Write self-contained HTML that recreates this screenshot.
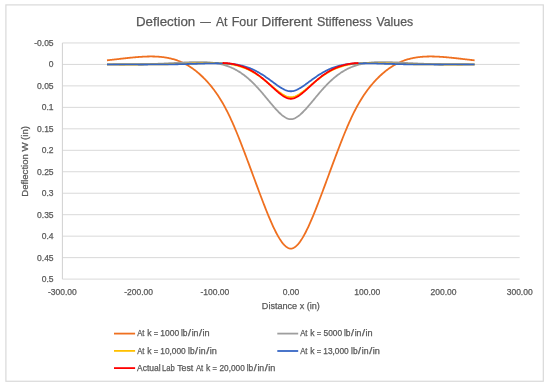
<!DOCTYPE html>
<html><head><meta charset="utf-8"><style>
html,body{margin:0;padding:0;background:#fff;}
svg{display:block;}
text{font-family:"Liberation Sans", Arial, sans-serif;fill:#595959;stroke:#595959;stroke-width:0.25px;}
</style></head><body>
<svg width="550" height="387" viewBox="0 0 550 387">
<rect x="0" y="0" width="550" height="387" fill="#fff"/>
<rect x="5.9" y="4.9" width="537.4" height="376.35" fill="#fff" stroke="#d9d9d9" stroke-width="1.2"/>
<g font-size="12.6"><text x="136.00" y="26" textLength="59.25" lengthAdjust="spacingAndGlyphs">Deflection</text><text x="200.30" y="26" textLength="10.60" lengthAdjust="spacingAndGlyphs">—</text><text x="216.00" y="26" textLength="11.50" lengthAdjust="spacingAndGlyphs">At</text><text x="231.70" y="26" textLength="25.60" lengthAdjust="spacingAndGlyphs">Four</text><text x="261.60" y="26" textLength="50.70" lengthAdjust="spacingAndGlyphs">Different</text><text x="317.00" y="26" textLength="54.75" lengthAdjust="spacingAndGlyphs">Stiffeness</text><text x="376.40" y="26" textLength="36.75" lengthAdjust="spacingAndGlyphs">Values</text></g>
<g stroke="#d9d9d9" stroke-width="1">
<line x1="62.40" y1="42.96" x2="519.70" y2="42.96"/>
<line x1="62.40" y1="64.43" x2="519.70" y2="64.43"/>
<line x1="62.40" y1="85.89" x2="519.70" y2="85.89"/>
<line x1="62.40" y1="107.36" x2="519.70" y2="107.36"/>
<line x1="62.40" y1="128.83" x2="519.70" y2="128.83"/>
<line x1="62.40" y1="150.30" x2="519.70" y2="150.30"/>
<line x1="62.40" y1="171.76" x2="519.70" y2="171.76"/>
<line x1="62.40" y1="193.23" x2="519.70" y2="193.23"/>
<line x1="62.40" y1="214.70" x2="519.70" y2="214.70"/>
<line x1="62.40" y1="236.17" x2="519.70" y2="236.17"/>
<line x1="62.40" y1="257.63" x2="519.70" y2="257.63"/>
<line x1="62.40" y1="279.10" x2="519.70" y2="279.10"/>
</g>
<line x1="62.40" y1="42.96" x2="62.40" y2="279.10" stroke="#d0d0d0" stroke-width="1"/>
<g font-size="8.5">
<text x="53.6" y="45.86" text-anchor="end">-0.05</text>
<text x="53.6" y="67.33" text-anchor="end">0</text>
<text x="53.6" y="88.79" text-anchor="end">0.05</text>
<text x="53.6" y="110.26" text-anchor="end">0.1</text>
<text x="53.6" y="131.73" text-anchor="end">0.15</text>
<text x="53.6" y="153.20" text-anchor="end">0.2</text>
<text x="53.6" y="174.66" text-anchor="end">0.25</text>
<text x="53.6" y="196.13" text-anchor="end">0.3</text>
<text x="53.6" y="217.60" text-anchor="end">0.35</text>
<text x="53.6" y="239.07" text-anchor="end">0.4</text>
<text x="53.6" y="260.53" text-anchor="end">0.45</text>
<text x="53.6" y="282.00" text-anchor="end">0.5</text>
<text x="62.40" y="294.7" text-anchor="middle">-300.00</text>
<text x="138.62" y="294.7" text-anchor="middle">-200.00</text>
<text x="214.83" y="294.7" text-anchor="middle">-100.00</text>
<text x="291.05" y="294.7" text-anchor="middle">0.00</text>
<text x="367.27" y="294.7" text-anchor="middle">100.00</text>
<text x="443.48" y="294.7" text-anchor="middle">200.00</text>
<text x="519.70" y="294.7" text-anchor="middle">300.00</text>
</g>
<text x="290.85" y="309.3" text-anchor="middle" font-size="9" textLength="58" lengthAdjust="spacingAndGlyphs">Distance x (in)</text>
<text transform="translate(28.3,161.4) rotate(-90)" x="0" y="0" text-anchor="middle" font-size="9" textLength="70.6" lengthAdjust="spacingAndGlyphs">Deflection W (in)</text>
<g fill="none" stroke-width="1.8" stroke-linejoin="round" stroke-linecap="square">
<path d="M107.88,60.24 L108.64,60.16 L109.40,60.07 L110.17,59.98 L110.93,59.90 L111.69,59.81 L112.45,59.72 L113.22,59.64 L113.98,59.55 L114.74,59.46 L115.50,59.37 L116.26,59.29 L117.03,59.20 L117.79,59.11 L118.55,59.02 L119.31,58.93 L120.07,58.85 L120.84,58.76 L121.60,58.67 L122.36,58.59 L123.12,58.50 L123.89,58.42 L124.65,58.33 L125.41,58.25 L126.17,58.16 L126.93,58.08 L127.70,58.00 L128.46,57.92 L129.22,57.84 L129.98,57.76 L130.75,57.68 L131.51,57.61 L132.27,57.53 L133.03,57.46 L133.79,57.39 L134.56,57.32 L135.32,57.25 L136.08,57.19 L136.84,57.13 L137.60,57.06 L138.37,57.00 L139.13,56.95 L139.89,56.89 L140.65,56.84 L141.42,56.79 L142.18,56.75 L142.94,56.70 L143.70,56.66 L144.46,56.63 L145.23,56.59 L145.99,56.57 L146.75,56.54 L147.51,56.52 L148.27,56.50 L149.04,56.48 L149.80,56.47 L150.56,56.47 L151.32,56.47 L152.09,56.47 L152.85,56.48 L153.61,56.49 L154.37,56.51 L155.13,56.54 L155.90,56.57 L156.66,56.60 L157.42,56.64 L158.18,56.69 L158.95,56.75 L159.71,56.81 L160.47,56.87 L161.23,56.95 L161.99,57.03 L162.76,57.12 L163.52,57.21 L164.28,57.32 L165.04,57.43 L165.81,57.55 L166.57,57.67 L167.33,57.81 L168.09,57.95 L168.85,58.11 L169.62,58.27 L170.38,58.44 L171.14,58.62 L171.90,58.81 L172.67,59.02 L173.43,59.23 L174.19,59.45 L174.96,59.68 L175.72,59.93 L176.48,60.18 L177.25,60.45 L178.01,60.73 L178.78,61.02 L179.54,61.32 L180.31,61.63 L181.07,61.96 L181.84,62.30 L182.60,62.65 L183.37,63.02 L184.14,63.40 L184.91,63.80 L185.68,64.20 L186.45,64.63 L187.22,65.06 L187.99,65.52 L188.77,65.98 L189.54,66.47 L190.32,66.96 L191.10,67.48 L191.88,68.01 L192.66,68.56 L193.44,69.12 L194.23,69.70 L195.01,70.30 L195.80,70.91 L196.59,71.54 L197.39,72.19 L198.18,72.86 L198.98,73.55 L199.78,74.25 L200.58,74.97 L201.38,75.72 L202.18,76.48 L202.99,77.26 L203.80,78.06 L204.60,78.88 L205.41,79.72 L206.22,80.58 L207.04,81.46 L207.85,82.36 L208.66,83.28 L209.47,84.22 L210.28,85.19 L211.09,86.17 L211.90,87.18 L212.71,88.21 L213.52,89.25 L214.32,90.33 L215.12,91.42 L215.92,92.53 L216.72,93.67 L217.51,94.83 L218.30,96.01 L219.08,97.21 L219.86,98.44 L220.64,99.69 L221.41,100.96 L222.18,102.25 L222.94,103.57 L223.70,104.91 L224.45,106.27 L225.20,107.65 L225.95,109.06 L226.69,110.48 L227.43,111.93 L228.16,113.41 L228.89,114.90 L229.62,116.42 L230.34,117.96 L231.06,119.52 L231.78,121.10 L232.50,122.70 L233.21,124.32 L233.93,125.97 L234.64,127.63 L235.35,129.32 L236.06,131.02 L236.78,132.75 L237.49,134.49 L238.20,136.26 L238.91,138.04 L239.63,139.84 L240.34,141.66 L241.06,143.49 L241.78,145.34 L242.50,147.21 L243.23,149.09 L243.95,150.99 L244.68,152.91 L245.41,154.83 L246.14,156.77 L246.87,158.73 L247.60,160.69 L248.34,162.67 L249.08,164.65 L249.82,166.65 L250.56,168.65 L251.31,170.66 L252.05,172.68 L252.80,174.70 L253.55,176.73 L254.30,178.76 L255.05,180.79 L255.80,182.83 L256.56,184.87 L257.31,186.90 L258.07,188.93 L258.82,190.96 L259.58,192.98 L260.34,195.00 L261.10,197.01 L261.86,199.01 L262.62,201.00 L263.37,202.98 L264.13,204.94 L264.90,206.89 L265.66,208.82 L266.42,210.74 L267.18,212.63 L267.94,214.50 L268.70,216.34 L269.46,218.16 L270.22,219.95 L270.99,221.71 L271.75,223.43 L272.51,225.13 L273.27,226.78 L274.03,228.40 L274.80,229.97 L275.56,231.50 L276.32,232.98 L277.08,234.41 L277.84,235.80 L278.61,237.12 L279.37,238.39 L280.13,239.61 L280.89,240.75 L281.65,241.84 L282.42,242.85 L283.18,243.80 L283.94,244.67 L284.70,245.46 L285.46,246.17 L286.23,246.80 L286.99,247.34 L287.75,247.79 L288.51,248.15 L289.28,248.40 L290.04,248.56 L290.80,248.62 L291.56,248.56 L292.32,248.40 L293.09,248.15 L293.85,247.79 L294.61,247.34 L295.37,246.80 L296.14,246.17 L296.90,245.46 L297.66,244.67 L298.42,243.80 L299.18,242.85 L299.95,241.84 L300.71,240.75 L301.47,239.61 L302.23,238.39 L302.99,237.12 L303.76,235.80 L304.52,234.41 L305.28,232.98 L306.04,231.50 L306.80,229.97 L307.57,228.40 L308.33,226.78 L309.09,225.13 L309.85,223.43 L310.61,221.71 L311.38,219.95 L312.14,218.16 L312.90,216.34 L313.66,214.50 L314.42,212.63 L315.18,210.74 L315.94,208.82 L316.70,206.89 L317.47,204.94 L318.23,202.98 L318.98,201.00 L319.74,199.01 L320.50,197.01 L321.26,195.00 L322.02,192.98 L322.78,190.96 L323.53,188.93 L324.29,186.90 L325.04,184.87 L325.80,182.83 L326.55,180.79 L327.30,178.76 L328.05,176.73 L328.80,174.70 L329.55,172.68 L330.29,170.66 L331.04,168.65 L331.78,166.65 L332.52,164.65 L333.26,162.67 L334.00,160.69 L334.73,158.73 L335.46,156.77 L336.19,154.83 L336.92,152.91 L337.65,150.99 L338.37,149.09 L339.10,147.21 L339.82,145.34 L340.54,143.49 L341.26,141.66 L341.97,139.84 L342.69,138.04 L343.40,136.26 L344.11,134.49 L344.82,132.75 L345.54,131.02 L346.25,129.32 L346.96,127.63 L347.67,125.97 L348.39,124.32 L349.10,122.70 L349.82,121.10 L350.54,119.52 L351.26,117.96 L351.98,116.42 L352.71,114.90 L353.44,113.41 L354.17,111.93 L354.91,110.48 L355.65,109.06 L356.40,107.65 L357.15,106.27 L357.90,104.91 L358.66,103.57 L359.42,102.25 L360.19,100.96 L360.96,99.69 L361.74,98.44 L362.52,97.21 L363.30,96.01 L364.09,94.83 L364.88,93.67 L365.68,92.53 L366.48,91.42 L367.28,90.33 L368.08,89.25 L368.89,88.21 L369.70,87.18 L370.51,86.17 L371.32,85.19 L372.13,84.22 L372.94,83.28 L373.75,82.36 L374.56,81.46 L375.38,80.58 L376.19,79.72 L377.00,78.88 L377.80,78.06 L378.61,77.26 L379.42,76.48 L380.22,75.72 L381.02,74.97 L381.82,74.25 L382.62,73.55 L383.42,72.86 L384.21,72.19 L385.01,71.54 L385.80,70.91 L386.59,70.30 L387.37,69.70 L388.16,69.12 L388.94,68.56 L389.72,68.01 L390.50,67.48 L391.28,66.96 L392.06,66.47 L392.83,65.98 L393.61,65.52 L394.38,65.06 L395.15,64.63 L395.92,64.20 L396.69,63.80 L397.46,63.40 L398.23,63.02 L399.00,62.65 L399.76,62.30 L400.53,61.96 L401.29,61.63 L402.06,61.32 L402.82,61.02 L403.59,60.73 L404.35,60.45 L405.12,60.18 L405.88,59.93 L406.64,59.68 L407.41,59.45 L408.17,59.23 L408.93,59.02 L409.70,58.81 L410.46,58.62 L411.22,58.44 L411.98,58.27 L412.75,58.11 L413.51,57.95 L414.27,57.81 L415.03,57.67 L415.79,57.55 L416.56,57.43 L417.32,57.32 L418.08,57.21 L418.84,57.12 L419.61,57.03 L420.37,56.95 L421.13,56.87 L421.89,56.81 L422.65,56.75 L423.42,56.69 L424.18,56.64 L424.94,56.60 L425.70,56.57 L426.47,56.54 L427.23,56.51 L427.99,56.49 L428.75,56.48 L429.51,56.47 L430.28,56.47 L431.04,56.47 L431.80,56.47 L432.56,56.48 L433.33,56.50 L434.09,56.52 L434.85,56.54 L435.61,56.57 L436.37,56.59 L437.14,56.63 L437.90,56.66 L438.66,56.70 L439.42,56.75 L440.18,56.79 L440.95,56.84 L441.71,56.89 L442.47,56.95 L443.23,57.00 L444.00,57.06 L444.76,57.13 L445.52,57.19 L446.28,57.25 L447.04,57.32 L447.81,57.39 L448.57,57.46 L449.33,57.53 L450.09,57.61 L450.85,57.68 L451.62,57.76 L452.38,57.84 L453.14,57.92 L453.90,58.00 L454.67,58.08 L455.43,58.16 L456.19,58.25 L456.95,58.33 L457.71,58.42 L458.48,58.50 L459.24,58.59 L460.00,58.67 L460.76,58.76 L461.53,58.85 L462.29,58.93 L463.05,59.02 L463.81,59.11 L464.57,59.20 L465.34,59.29 L466.10,59.37 L466.86,59.46 L467.62,59.55 L468.38,59.64 L469.15,59.72 L469.91,59.81 L470.67,59.90 L471.43,59.98 L472.20,60.07 L472.96,60.16 L473.72,60.24" stroke="#EF7020"/>
<path d="M107.88,64.53 L108.64,64.53 L109.40,64.53 L110.17,64.53 L110.93,64.53 L111.69,64.53 L112.45,64.53 L113.22,64.52 L113.98,64.52 L114.74,64.52 L115.50,64.52 L116.26,64.52 L117.03,64.52 L117.79,64.51 L118.55,64.51 L119.31,64.51 L120.07,64.50 L120.84,64.50 L121.60,64.50 L122.36,64.49 L123.12,64.49 L123.89,64.48 L124.65,64.48 L125.41,64.47 L126.17,64.47 L126.93,64.46 L127.70,64.45 L128.46,64.45 L129.22,64.44 L129.98,64.43 L130.74,64.42 L131.51,64.41 L132.27,64.40 L133.03,64.39 L133.79,64.38 L134.56,64.37 L135.32,64.36 L136.08,64.35 L136.84,64.34 L137.60,64.33 L138.37,64.31 L139.13,64.30 L139.89,64.28 L140.65,64.27 L141.42,64.25 L142.18,64.24 L142.94,64.22 L143.70,64.20 L144.46,64.19 L145.23,64.17 L145.99,64.15 L146.75,64.13 L147.51,64.11 L148.27,64.09 L149.04,64.07 L149.80,64.04 L150.56,64.02 L151.32,64.00 L152.09,63.97 L152.85,63.95 L153.61,63.92 L154.37,63.89 L155.13,63.87 L155.90,63.84 L156.66,63.81 L157.42,63.78 L158.18,63.75 L158.95,63.72 L159.71,63.69 L160.47,63.66 L161.23,63.63 L161.99,63.60 L162.76,63.56 L163.52,63.53 L164.28,63.49 L165.04,63.46 L165.80,63.42 L166.57,63.39 L167.33,63.35 L168.09,63.31 L168.85,63.27 L169.62,63.24 L170.38,63.20 L171.14,63.16 L171.90,63.12 L172.66,63.08 L173.43,63.04 L174.19,63.00 L174.95,62.96 L175.71,62.92 L176.47,62.88 L177.24,62.84 L178.00,62.80 L178.76,62.76 L179.52,62.73 L180.29,62.69 L181.05,62.65 L181.81,62.61 L182.57,62.57 L183.33,62.53 L184.10,62.50 L184.86,62.46 L185.62,62.43 L186.38,62.39 L187.15,62.36 L187.91,62.33 L188.67,62.30 L189.43,62.27 L190.19,62.24 L190.96,62.21 L191.72,62.19 L192.48,62.16 L193.24,62.14 L194.00,62.12 L194.77,62.11 L195.53,62.09 L196.29,62.08 L197.05,62.07 L197.82,62.07 L198.58,62.06 L199.34,62.06 L200.10,62.06 L200.86,62.07 L201.63,62.08 L202.39,62.09 L203.15,62.11 L203.91,62.13 L204.68,62.16 L205.44,62.19 L206.20,62.23 L206.96,62.27 L207.72,62.31 L208.49,62.37 L209.25,62.42 L210.01,62.49 L210.77,62.55 L211.53,62.63 L212.30,62.71 L213.06,62.80 L213.82,62.90 L214.58,63.00 L215.35,63.11 L216.11,63.23 L216.87,63.35 L217.63,63.49 L218.39,63.63 L219.16,63.78 L219.92,63.94 L220.68,64.11 L221.44,64.29 L222.20,64.48 L222.97,64.68 L223.73,64.89 L224.49,65.11 L225.25,65.34 L226.02,65.58 L226.78,65.84 L227.54,66.10 L228.30,66.38 L229.06,66.67 L229.83,66.97 L230.59,67.28 L231.35,67.61 L232.11,67.95 L232.88,68.30 L233.64,68.67 L234.40,69.05 L235.16,69.45 L235.92,69.86 L236.69,70.28 L237.45,70.72 L238.21,71.17 L238.97,71.63 L239.73,72.12 L240.50,72.61 L241.26,73.13 L242.02,73.65 L242.78,74.20 L243.55,74.75 L244.31,75.33 L245.07,75.92 L245.83,76.52 L246.59,77.14 L247.36,77.78 L248.12,78.43 L248.88,79.09 L249.64,79.78 L250.41,80.47 L251.17,81.18 L251.93,81.91 L252.69,82.65 L253.45,83.40 L254.22,84.17 L254.98,84.96 L255.74,85.75 L256.50,86.56 L257.26,87.38 L258.03,88.21 L258.79,89.06 L259.55,89.91 L260.31,90.77 L261.08,91.65 L261.84,92.53 L262.60,93.42 L263.36,94.32 L264.12,95.23 L264.89,96.14 L265.65,97.05 L266.41,97.97 L267.17,98.89 L267.94,99.81 L268.70,100.73 L269.46,101.65 L270.22,102.57 L270.98,103.48 L271.75,104.39 L272.51,105.29 L273.27,106.18 L274.03,107.06 L274.79,107.92 L275.56,108.78 L276.32,109.61 L277.08,110.43 L277.84,111.23 L278.61,112.01 L279.37,112.76 L280.13,113.48 L280.89,114.17 L281.65,114.83 L282.42,115.46 L283.18,116.05 L283.94,116.59 L284.70,117.10 L285.46,117.55 L286.23,117.96 L286.99,118.32 L287.75,118.61 L288.51,118.85 L289.28,119.02 L290.04,119.13 L290.80,119.17 L291.56,119.13 L292.32,119.02 L293.09,118.85 L293.85,118.61 L294.61,118.32 L295.37,117.96 L296.14,117.55 L296.90,117.10 L297.66,116.59 L298.42,116.05 L299.18,115.46 L299.95,114.83 L300.71,114.17 L301.47,113.48 L302.23,112.76 L302.99,112.01 L303.76,111.23 L304.52,110.43 L305.28,109.61 L306.04,108.78 L306.81,107.92 L307.57,107.06 L308.33,106.18 L309.09,105.29 L309.85,104.39 L310.62,103.48 L311.38,102.57 L312.14,101.65 L312.90,100.73 L313.67,99.81 L314.43,98.89 L315.19,97.97 L315.95,97.05 L316.71,96.14 L317.48,95.23 L318.24,94.32 L319.00,93.42 L319.76,92.53 L320.52,91.65 L321.29,90.77 L322.05,89.91 L322.81,89.06 L323.57,88.21 L324.34,87.38 L325.10,86.56 L325.86,85.75 L326.62,84.96 L327.38,84.17 L328.15,83.40 L328.91,82.65 L329.67,81.91 L330.43,81.18 L331.19,80.47 L331.96,79.78 L332.72,79.09 L333.48,78.43 L334.24,77.78 L335.01,77.14 L335.77,76.52 L336.53,75.92 L337.29,75.33 L338.05,74.75 L338.82,74.20 L339.58,73.65 L340.34,73.13 L341.10,72.61 L341.87,72.12 L342.63,71.63 L343.39,71.17 L344.15,70.72 L344.91,70.28 L345.68,69.86 L346.44,69.45 L347.20,69.05 L347.96,68.67 L348.72,68.30 L349.49,67.95 L350.25,67.61 L351.01,67.28 L351.77,66.97 L352.54,66.67 L353.30,66.38 L354.06,66.10 L354.82,65.84 L355.58,65.58 L356.35,65.34 L357.11,65.11 L357.87,64.89 L358.63,64.68 L359.40,64.48 L360.16,64.29 L360.92,64.11 L361.68,63.94 L362.44,63.78 L363.21,63.63 L363.97,63.49 L364.73,63.35 L365.49,63.23 L366.25,63.11 L367.02,63.00 L367.78,62.90 L368.54,62.80 L369.30,62.71 L370.07,62.63 L370.83,62.55 L371.59,62.49 L372.35,62.42 L373.11,62.37 L373.88,62.31 L374.64,62.27 L375.40,62.23 L376.16,62.19 L376.92,62.16 L377.69,62.13 L378.45,62.11 L379.21,62.09 L379.97,62.08 L380.74,62.07 L381.50,62.06 L382.26,62.06 L383.02,62.06 L383.78,62.07 L384.55,62.07 L385.31,62.08 L386.07,62.09 L386.83,62.11 L387.60,62.12 L388.36,62.14 L389.12,62.16 L389.88,62.19 L390.64,62.21 L391.41,62.24 L392.17,62.27 L392.93,62.30 L393.69,62.33 L394.45,62.36 L395.22,62.39 L395.98,62.43 L396.74,62.46 L397.50,62.50 L398.27,62.53 L399.03,62.57 L399.79,62.61 L400.55,62.65 L401.31,62.69 L402.08,62.73 L402.84,62.76 L403.60,62.80 L404.36,62.84 L405.12,62.88 L405.89,62.92 L406.65,62.96 L407.41,63.00 L408.17,63.04 L408.94,63.08 L409.70,63.12 L410.46,63.16 L411.22,63.20 L411.98,63.24 L412.75,63.27 L413.51,63.31 L414.27,63.35 L415.03,63.39 L415.80,63.42 L416.56,63.46 L417.32,63.49 L418.08,63.53 L418.84,63.56 L419.61,63.60 L420.37,63.63 L421.13,63.66 L421.89,63.69 L422.65,63.72 L423.42,63.75 L424.18,63.78 L424.94,63.81 L425.70,63.84 L426.47,63.87 L427.23,63.89 L427.99,63.92 L428.75,63.95 L429.51,63.97 L430.28,64.00 L431.04,64.02 L431.80,64.04 L432.56,64.07 L433.33,64.09 L434.09,64.11 L434.85,64.13 L435.61,64.15 L436.37,64.17 L437.14,64.19 L437.90,64.20 L438.66,64.22 L439.42,64.24 L440.18,64.25 L440.95,64.27 L441.71,64.28 L442.47,64.30 L443.23,64.31 L444.00,64.33 L444.76,64.34 L445.52,64.35 L446.28,64.36 L447.04,64.37 L447.81,64.38 L448.57,64.39 L449.33,64.40 L450.09,64.41 L450.86,64.42 L451.62,64.43 L452.38,64.44 L453.14,64.45 L453.90,64.45 L454.67,64.46 L455.43,64.47 L456.19,64.47 L456.95,64.48 L457.71,64.48 L458.48,64.49 L459.24,64.49 L460.00,64.50 L460.76,64.50 L461.53,64.50 L462.29,64.51 L463.05,64.51 L463.81,64.51 L464.57,64.52 L465.34,64.52 L466.10,64.52 L466.86,64.52 L467.62,64.52 L468.38,64.52 L469.15,64.53 L469.91,64.53 L470.67,64.53 L471.43,64.53 L472.20,64.53 L472.96,64.53 L473.72,64.53" stroke="#9E9E9E"/>
<path d="M107.88,64.46 L108.64,64.46 L109.40,64.46 L110.17,64.46 L110.93,64.46 L111.69,64.46 L112.45,64.46 L113.22,64.47 L113.98,64.47 L114.74,64.47 L115.50,64.47 L116.26,64.47 L117.03,64.47 L117.79,64.47 L118.55,64.47 L119.31,64.48 L120.07,64.48 L120.84,64.48 L121.60,64.48 L122.36,64.48 L123.12,64.48 L123.89,64.48 L124.65,64.48 L125.41,64.48 L126.17,64.48 L126.93,64.49 L127.70,64.49 L128.46,64.49 L129.22,64.49 L129.98,64.49 L130.74,64.49 L131.51,64.49 L132.27,64.49 L133.03,64.49 L133.79,64.49 L134.56,64.49 L135.32,64.49 L136.08,64.49 L136.84,64.49 L137.60,64.49 L138.37,64.49 L139.13,64.48 L139.89,64.48 L140.65,64.48 L141.42,64.48 L142.18,64.48 L142.94,64.48 L143.70,64.48 L144.46,64.47 L145.23,64.47 L145.99,64.47 L146.75,64.46 L147.51,64.46 L148.27,64.46 L149.04,64.45 L149.80,64.45 L150.56,64.44 L151.32,64.44 L152.09,64.43 L152.85,64.43 L153.61,64.42 L154.37,64.42 L155.13,64.41 L155.90,64.40 L156.66,64.40 L157.42,64.39 L158.18,64.38 L158.95,64.37 L159.71,64.36 L160.47,64.35 L161.23,64.34 L161.99,64.33 L162.76,64.32 L163.52,64.31 L164.28,64.30 L165.04,64.29 L165.80,64.27 L166.57,64.26 L167.33,64.25 L168.09,64.23 L168.85,64.22 L169.62,64.20 L170.38,64.19 L171.14,64.17 L171.90,64.15 L172.66,64.14 L173.43,64.12 L174.19,64.10 L174.95,64.08 L175.71,64.06 L176.47,64.04 L177.24,64.02 L178.00,64.00 L178.76,63.98 L179.52,63.95 L180.29,63.93 L181.05,63.91 L181.81,63.88 L182.57,63.86 L183.33,63.83 L184.10,63.81 L184.86,63.78 L185.62,63.76 L186.38,63.73 L187.15,63.70 L187.91,63.68 L188.67,63.65 L189.43,63.62 L190.19,63.60 L190.96,63.57 L191.72,63.54 L192.48,63.51 L193.24,63.48 L194.00,63.46 L194.77,63.43 L195.53,63.40 L196.29,63.37 L197.05,63.35 L197.82,63.32 L198.58,63.30 L199.34,63.27 L200.10,63.25 L200.86,63.22 L201.63,63.20 L202.39,63.17 L203.15,63.15 L203.91,63.13 L204.68,63.11 L205.44,63.10 L206.20,63.08 L206.96,63.06 L207.72,63.05 L208.49,63.04 L209.25,63.03 L210.01,63.02 L210.77,63.02 L211.53,63.01 L212.30,63.01 L213.06,63.01 L213.82,63.02 L214.58,63.03 L215.35,63.04 L216.11,63.05 L216.87,63.07 L217.63,63.09 L218.39,63.12 L219.16,63.15 L219.92,63.18 L220.68,63.22 L221.44,63.26 L222.20,63.31 L222.97,63.36 L223.73,63.42 L224.49,63.49 L225.25,63.56 L226.02,63.63 L226.78,63.71 L227.54,63.80 L228.30,63.90 L229.06,64.00 L229.83,64.11 L230.59,64.23 L231.35,64.35 L232.11,64.49 L232.88,64.63 L233.64,64.78 L234.40,64.94 L235.16,65.10 L235.92,65.28 L236.69,65.47 L237.45,65.66 L238.21,65.87 L238.97,66.08 L239.73,66.31 L240.50,66.55 L241.26,66.80 L242.02,67.06 L242.78,67.33 L243.55,67.61 L244.31,67.90 L245.07,68.20 L245.83,68.52 L246.59,68.85 L247.36,69.19 L248.12,69.54 L248.88,69.91 L249.64,70.29 L250.41,70.68 L251.17,71.08 L251.93,71.50 L252.69,71.93 L253.45,72.37 L254.22,72.82 L254.98,73.29 L255.74,73.77 L256.50,74.26 L257.26,74.76 L258.03,75.28 L258.79,75.80 L259.55,76.34 L260.31,76.89 L261.08,77.45 L261.84,78.02 L262.60,78.59 L263.36,79.18 L264.12,79.78 L264.89,80.38 L265.65,81.00 L266.41,81.62 L267.17,82.24 L267.94,82.87 L268.70,83.51 L269.46,84.15 L270.22,84.79 L270.98,85.43 L271.75,86.07 L272.51,86.71 L273.27,87.35 L274.03,87.99 L274.79,88.62 L275.56,89.24 L276.32,89.86 L277.08,90.47 L277.84,91.06 L278.61,91.64 L279.37,92.20 L280.13,92.75 L280.89,93.28 L281.65,93.79 L282.42,94.27 L283.18,94.72 L283.94,95.15 L284.70,95.54 L285.46,95.90 L286.23,96.22 L286.99,96.50 L287.75,96.74 L288.51,96.93 L289.28,97.07 L290.04,97.16 L290.80,97.19 L291.56,97.16 L292.32,97.07 L293.09,96.93 L293.85,96.74 L294.61,96.50 L295.37,96.22 L296.14,95.90 L296.90,95.54 L297.66,95.15 L298.42,94.72 L299.18,94.27 L299.95,93.79 L300.71,93.28 L301.47,92.75 L302.23,92.20 L302.99,91.64 L303.76,91.06 L304.52,90.47 L305.28,89.86 L306.04,89.24 L306.81,88.62 L307.57,87.99 L308.33,87.35 L309.09,86.71 L309.85,86.07 L310.62,85.43 L311.38,84.79 L312.14,84.15 L312.90,83.51 L313.67,82.87 L314.43,82.24 L315.19,81.62 L315.95,81.00 L316.71,80.38 L317.48,79.78 L318.24,79.18 L319.00,78.59 L319.76,78.02 L320.52,77.45 L321.29,76.89 L322.05,76.34 L322.81,75.80 L323.57,75.28 L324.34,74.76 L325.10,74.26 L325.86,73.77 L326.62,73.29 L327.38,72.82 L328.15,72.37 L328.91,71.93 L329.67,71.50 L330.43,71.08 L331.19,70.68 L331.96,70.29 L332.72,69.91 L333.48,69.54 L334.24,69.19 L335.01,68.85 L335.77,68.52 L336.53,68.20 L337.29,67.90 L338.05,67.61 L338.82,67.33 L339.58,67.06 L340.34,66.80 L341.10,66.55 L341.87,66.31 L342.63,66.08 L343.39,65.87 L344.15,65.66 L344.91,65.47 L345.68,65.28 L346.44,65.10 L347.20,64.94 L347.96,64.78 L348.72,64.63 L349.49,64.49 L350.25,64.35 L351.01,64.23 L351.77,64.11 L352.54,64.00 L353.30,63.90 L354.06,63.80 L354.82,63.71 L355.58,63.63 L356.35,63.56 L357.11,63.49 L357.87,63.42 L358.63,63.36 L359.40,63.31 L360.16,63.26 L360.92,63.22 L361.68,63.18 L362.44,63.15 L363.21,63.12 L363.97,63.09 L364.73,63.07 L365.49,63.05 L366.25,63.04 L367.02,63.03 L367.78,63.02 L368.54,63.01 L369.30,63.01 L370.07,63.01 L370.83,63.02 L371.59,63.02 L372.35,63.03 L373.11,63.04 L373.88,63.05 L374.64,63.06 L375.40,63.08 L376.16,63.10 L376.92,63.11 L377.69,63.13 L378.45,63.15 L379.21,63.17 L379.97,63.20 L380.74,63.22 L381.50,63.25 L382.26,63.27 L383.02,63.30 L383.78,63.32 L384.55,63.35 L385.31,63.37 L386.07,63.40 L386.83,63.43 L387.60,63.46 L388.36,63.48 L389.12,63.51 L389.88,63.54 L390.64,63.57 L391.41,63.60 L392.17,63.62 L392.93,63.65 L393.69,63.68 L394.45,63.70 L395.22,63.73 L395.98,63.76 L396.74,63.78 L397.50,63.81 L398.27,63.83 L399.03,63.86 L399.79,63.88 L400.55,63.91 L401.31,63.93 L402.08,63.95 L402.84,63.98 L403.60,64.00 L404.36,64.02 L405.12,64.04 L405.89,64.06 L406.65,64.08 L407.41,64.10 L408.17,64.12 L408.94,64.14 L409.70,64.15 L410.46,64.17 L411.22,64.19 L411.98,64.20 L412.75,64.22 L413.51,64.23 L414.27,64.25 L415.03,64.26 L415.80,64.27 L416.56,64.29 L417.32,64.30 L418.08,64.31 L418.84,64.32 L419.61,64.33 L420.37,64.34 L421.13,64.35 L421.89,64.36 L422.65,64.37 L423.42,64.38 L424.18,64.39 L424.94,64.40 L425.70,64.40 L426.47,64.41 L427.23,64.42 L427.99,64.42 L428.75,64.43 L429.51,64.43 L430.28,64.44 L431.04,64.44 L431.80,64.45 L432.56,64.45 L433.33,64.46 L434.09,64.46 L434.85,64.46 L435.61,64.47 L436.37,64.47 L437.14,64.47 L437.90,64.48 L438.66,64.48 L439.42,64.48 L440.18,64.48 L440.95,64.48 L441.71,64.48 L442.47,64.48 L443.23,64.49 L444.00,64.49 L444.76,64.49 L445.52,64.49 L446.28,64.49 L447.04,64.49 L447.81,64.49 L448.57,64.49 L449.33,64.49 L450.09,64.49 L450.86,64.49 L451.62,64.49 L452.38,64.49 L453.14,64.49 L453.90,64.49 L454.67,64.49 L455.43,64.48 L456.19,64.48 L456.95,64.48 L457.71,64.48 L458.48,64.48 L459.24,64.48 L460.00,64.48 L460.76,64.48 L461.53,64.48 L462.29,64.48 L463.05,64.47 L463.81,64.47 L464.57,64.47 L465.34,64.47 L466.10,64.47 L466.86,64.47 L467.62,64.47 L468.38,64.47 L469.15,64.46 L469.91,64.46 L470.67,64.46 L471.43,64.46 L472.20,64.46 L472.96,64.46 L473.72,64.46" stroke="#FFC000"/>
<path d="M107.88,64.44 L108.64,64.44 L109.40,64.44 L110.17,64.44 L110.93,64.44 L111.69,64.44 L112.45,64.44 L113.22,64.44 L113.98,64.45 L114.74,64.45 L115.50,64.45 L116.26,64.45 L117.03,64.45 L117.79,64.45 L118.55,64.45 L119.31,64.45 L120.07,64.45 L120.84,64.45 L121.60,64.45 L122.36,64.46 L123.12,64.46 L123.89,64.46 L124.65,64.46 L125.41,64.46 L126.17,64.46 L126.93,64.46 L127.70,64.46 L128.46,64.46 L129.22,64.47 L129.98,64.47 L130.74,64.47 L131.51,64.47 L132.27,64.47 L133.03,64.47 L133.79,64.47 L134.56,64.47 L135.32,64.47 L136.08,64.47 L136.84,64.47 L137.60,64.47 L138.37,64.48 L139.13,64.48 L139.89,64.48 L140.65,64.48 L141.42,64.48 L142.18,64.48 L142.94,64.48 L143.70,64.48 L144.46,64.48 L145.23,64.48 L145.99,64.48 L146.75,64.48 L147.51,64.48 L148.27,64.47 L149.04,64.47 L149.80,64.47 L150.56,64.47 L151.32,64.47 L152.09,64.47 L152.85,64.47 L153.61,64.46 L154.37,64.46 L155.13,64.46 L155.90,64.46 L156.66,64.45 L157.42,64.45 L158.18,64.45 L158.95,64.44 L159.71,64.44 L160.47,64.44 L161.23,64.43 L161.99,64.43 L162.76,64.42 L163.52,64.42 L164.28,64.41 L165.04,64.40 L165.80,64.40 L166.57,64.39 L167.33,64.38 L168.09,64.37 L168.85,64.37 L169.62,64.36 L170.38,64.35 L171.14,64.34 L171.90,64.33 L172.66,64.32 L173.43,64.31 L174.19,64.29 L174.95,64.28 L175.71,64.27 L176.47,64.26 L177.24,64.24 L178.00,64.23 L178.76,64.22 L179.52,64.20 L180.29,64.19 L181.05,64.17 L181.81,64.15 L182.57,64.14 L183.33,64.12 L184.10,64.10 L184.86,64.08 L185.62,64.06 L186.38,64.04 L187.15,64.02 L187.91,64.00 L188.67,63.98 L189.43,63.96 L190.19,63.94 L190.96,63.92 L191.72,63.90 L192.48,63.87 L193.24,63.85 L194.00,63.83 L194.77,63.80 L195.53,63.78 L196.29,63.76 L197.05,63.73 L197.82,63.71 L198.58,63.68 L199.34,63.66 L200.10,63.63 L200.86,63.61 L201.63,63.59 L202.39,63.56 L203.15,63.54 L203.91,63.52 L204.68,63.49 L205.44,63.47 L206.20,63.45 L206.96,63.43 L207.72,63.41 L208.49,63.39 L209.25,63.37 L210.01,63.35 L210.77,63.34 L211.53,63.32 L212.30,63.31 L213.06,63.30 L213.82,63.29 L214.58,63.28 L215.35,63.27 L216.11,63.27 L216.87,63.27 L217.63,63.27 L218.39,63.27 L219.16,63.28 L219.92,63.29 L220.68,63.30 L221.44,63.31 L222.20,63.33 L222.97,63.35 L223.73,63.38 L224.49,63.41 L225.25,63.44 L226.02,63.48 L226.78,63.52 L227.54,63.57 L228.30,63.63 L229.06,63.68 L229.83,63.75 L230.59,63.82 L231.35,63.89 L232.11,63.98 L232.88,64.07 L233.64,64.16 L234.40,64.26 L235.16,64.37 L235.92,64.49 L236.69,64.61 L237.45,64.75 L238.21,64.89 L238.97,65.04 L239.73,65.20 L240.50,65.36 L241.26,65.54 L242.02,65.72 L242.78,65.92 L243.55,66.12 L244.31,66.34 L245.07,66.57 L245.83,66.80 L246.59,67.05 L247.36,67.31 L248.12,67.57 L248.88,67.85 L249.64,68.14 L250.41,68.45 L251.17,68.76 L251.93,69.09 L252.69,69.42 L253.45,69.77 L254.22,70.13 L254.98,70.51 L255.74,70.89 L256.50,71.29 L257.26,71.69 L258.03,72.11 L258.79,72.54 L259.55,72.98 L260.31,73.44 L261.08,73.90 L261.84,74.37 L262.60,74.86 L263.36,75.35 L264.12,75.85 L264.89,76.37 L265.65,76.89 L266.41,77.41 L267.17,77.95 L267.94,78.49 L268.70,79.04 L269.46,79.59 L270.22,80.15 L270.98,80.70 L271.75,81.27 L272.51,81.83 L273.27,82.39 L274.03,82.95 L274.79,83.51 L275.56,84.06 L276.32,84.61 L277.08,85.15 L277.84,85.68 L278.61,86.20 L279.37,86.71 L280.13,87.20 L280.89,87.68 L281.65,88.14 L282.42,88.58 L283.18,88.99 L283.94,89.38 L284.70,89.74 L285.46,90.07 L286.23,90.37 L286.99,90.63 L287.75,90.85 L288.51,91.02 L289.28,91.15 L290.04,91.23 L290.80,91.26 L291.56,91.23 L292.32,91.15 L293.09,91.02 L293.85,90.85 L294.61,90.63 L295.37,90.37 L296.14,90.07 L296.90,89.74 L297.66,89.38 L298.42,88.99 L299.18,88.58 L299.95,88.14 L300.71,87.68 L301.47,87.20 L302.23,86.71 L302.99,86.20 L303.76,85.68 L304.52,85.15 L305.28,84.61 L306.04,84.06 L306.81,83.51 L307.57,82.95 L308.33,82.39 L309.09,81.83 L309.85,81.27 L310.62,80.70 L311.38,80.15 L312.14,79.59 L312.90,79.04 L313.67,78.49 L314.43,77.95 L315.19,77.41 L315.95,76.89 L316.71,76.37 L317.48,75.85 L318.24,75.35 L319.00,74.86 L319.76,74.37 L320.52,73.90 L321.29,73.44 L322.05,72.98 L322.81,72.54 L323.57,72.11 L324.34,71.69 L325.10,71.29 L325.86,70.89 L326.62,70.51 L327.38,70.13 L328.15,69.77 L328.91,69.42 L329.67,69.09 L330.43,68.76 L331.19,68.45 L331.96,68.14 L332.72,67.85 L333.48,67.57 L334.24,67.31 L335.01,67.05 L335.77,66.80 L336.53,66.57 L337.29,66.34 L338.05,66.12 L338.82,65.92 L339.58,65.72 L340.34,65.54 L341.10,65.36 L341.87,65.20 L342.63,65.04 L343.39,64.89 L344.15,64.75 L344.91,64.61 L345.68,64.49 L346.44,64.37 L347.20,64.26 L347.96,64.16 L348.72,64.07 L349.49,63.98 L350.25,63.89 L351.01,63.82 L351.77,63.75 L352.54,63.68 L353.30,63.63 L354.06,63.57 L354.82,63.52 L355.58,63.48 L356.35,63.44 L357.11,63.41 L357.87,63.38 L358.63,63.35 L359.40,63.33 L360.16,63.31 L360.92,63.30 L361.68,63.29 L362.44,63.28 L363.21,63.27 L363.97,63.27 L364.73,63.27 L365.49,63.27 L366.25,63.27 L367.02,63.28 L367.78,63.29 L368.54,63.30 L369.30,63.31 L370.07,63.32 L370.83,63.34 L371.59,63.35 L372.35,63.37 L373.11,63.39 L373.88,63.41 L374.64,63.43 L375.40,63.45 L376.16,63.47 L376.92,63.49 L377.69,63.52 L378.45,63.54 L379.21,63.56 L379.97,63.59 L380.74,63.61 L381.50,63.63 L382.26,63.66 L383.02,63.68 L383.78,63.71 L384.55,63.73 L385.31,63.76 L386.07,63.78 L386.83,63.80 L387.60,63.83 L388.36,63.85 L389.12,63.87 L389.88,63.90 L390.64,63.92 L391.41,63.94 L392.17,63.96 L392.93,63.98 L393.69,64.00 L394.45,64.02 L395.22,64.04 L395.98,64.06 L396.74,64.08 L397.50,64.10 L398.27,64.12 L399.03,64.14 L399.79,64.15 L400.55,64.17 L401.31,64.19 L402.08,64.20 L402.84,64.22 L403.60,64.23 L404.36,64.24 L405.12,64.26 L405.89,64.27 L406.65,64.28 L407.41,64.29 L408.17,64.31 L408.94,64.32 L409.70,64.33 L410.46,64.34 L411.22,64.35 L411.98,64.36 L412.75,64.37 L413.51,64.37 L414.27,64.38 L415.03,64.39 L415.80,64.40 L416.56,64.40 L417.32,64.41 L418.08,64.42 L418.84,64.42 L419.61,64.43 L420.37,64.43 L421.13,64.44 L421.89,64.44 L422.65,64.44 L423.42,64.45 L424.18,64.45 L424.94,64.45 L425.70,64.46 L426.47,64.46 L427.23,64.46 L427.99,64.46 L428.75,64.47 L429.51,64.47 L430.28,64.47 L431.04,64.47 L431.80,64.47 L432.56,64.47 L433.33,64.47 L434.09,64.48 L434.85,64.48 L435.61,64.48 L436.37,64.48 L437.14,64.48 L437.90,64.48 L438.66,64.48 L439.42,64.48 L440.18,64.48 L440.95,64.48 L441.71,64.48 L442.47,64.48 L443.23,64.48 L444.00,64.47 L444.76,64.47 L445.52,64.47 L446.28,64.47 L447.04,64.47 L447.81,64.47 L448.57,64.47 L449.33,64.47 L450.09,64.47 L450.86,64.47 L451.62,64.47 L452.38,64.47 L453.14,64.46 L453.90,64.46 L454.67,64.46 L455.43,64.46 L456.19,64.46 L456.95,64.46 L457.71,64.46 L458.48,64.46 L459.24,64.46 L460.00,64.45 L460.76,64.45 L461.53,64.45 L462.29,64.45 L463.05,64.45 L463.81,64.45 L464.57,64.45 L465.34,64.45 L466.10,64.45 L466.86,64.45 L467.62,64.45 L468.38,64.44 L469.15,64.44 L469.91,64.44 L470.67,64.44 L471.43,64.44 L472.20,64.44 L472.96,64.44 L473.72,64.44" stroke="#3666C4"/>
<path d="M223.50,63.01 L223.84,63.02 L224.17,63.03 L224.51,63.04 L224.84,63.06 L225.18,63.08 L225.51,63.09 L225.85,63.11 L226.18,63.13 L226.52,63.16 L226.85,63.18 L227.19,63.21 L227.52,63.24 L227.86,63.27 L228.19,63.30 L228.53,63.33 L228.86,63.37 L229.20,63.41 L229.53,63.45 L229.87,63.49 L230.20,63.54 L230.54,63.59 L230.87,63.64 L231.21,63.69 L231.54,63.75 L231.87,63.80 L232.21,63.86 L232.54,63.93 L232.88,63.99 L233.21,64.06 L233.55,64.13 L233.88,64.20 L234.22,64.27 L234.55,64.35 L234.89,64.43 L235.22,64.51 L235.56,64.59 L235.89,64.67 L236.23,64.76 L236.56,64.85 L236.90,64.94 L237.23,65.03 L237.57,65.13 L237.90,65.22 L238.24,65.32 L238.57,65.42 L238.91,65.52 L239.24,65.62 L239.58,65.73 L239.91,65.83 L240.25,65.94 L240.58,66.05 L240.92,66.16 L241.25,66.27 L241.59,66.38 L241.92,66.50 L242.26,66.61 L242.59,66.73 L242.93,66.85 L243.26,66.97 L243.60,67.09 L243.93,67.22 L244.27,67.35 L244.60,67.48 L244.94,67.61 L245.27,67.75 L245.61,67.89 L245.94,68.03 L246.28,68.17 L246.61,68.32 L246.95,68.47 L247.28,68.62 L247.62,68.77 L247.95,68.93 L248.29,69.09 L248.62,69.25 L248.96,69.42 L249.29,69.58 L249.63,69.75 L249.96,69.93 L250.30,70.10 L250.63,70.28 L250.97,70.46 L251.30,70.65 L251.64,70.83 L251.97,71.02 L252.31,71.21 L252.64,71.41 L252.98,71.61 L253.31,71.81 L253.65,72.01 L253.98,72.21 L254.32,72.42 L254.65,72.63 L254.99,72.85 L255.32,73.07 L255.66,73.28 L255.99,73.51 L256.33,73.73 L256.66,73.96 L257.00,74.19 L257.33,74.42 L257.67,74.66 L258.00,74.90 L258.34,75.14 L258.67,75.38 L259.01,75.63 L259.34,75.87 L259.68,76.13 L260.01,76.38 L260.35,76.64 L260.68,76.89 L261.02,77.15 L261.35,77.42 L261.69,77.68 L262.02,77.95 L262.36,78.22 L262.69,78.49 L263.03,78.77 L263.36,79.04 L263.70,79.32 L264.03,79.60 L264.37,79.89 L264.70,80.17 L265.04,80.46 L265.37,80.75 L265.71,81.04 L266.04,81.33 L266.38,81.62 L266.71,81.91 L267.05,82.21 L267.38,82.51 L267.72,82.81 L268.05,83.11 L268.39,83.41 L268.72,83.71 L269.06,84.01 L269.39,84.32 L269.73,84.62 L270.06,84.93 L270.40,85.24 L270.73,85.54 L271.07,85.85 L271.40,86.16 L271.74,86.46 L272.07,86.77 L272.41,87.08 L272.74,87.39 L273.08,87.69 L273.41,88.00 L273.75,88.31 L274.08,88.61 L274.42,88.92 L274.75,89.22 L275.09,89.52 L275.42,89.82 L275.76,90.12 L276.09,90.42 L276.43,90.72 L276.76,91.01 L277.10,91.30 L277.43,91.59 L277.77,91.88 L278.10,92.16 L278.44,92.44 L278.77,92.72 L279.11,93.00 L279.44,93.27 L279.78,93.54 L280.11,93.80 L280.45,94.06 L280.78,94.32 L281.12,94.57 L281.45,94.82 L281.79,95.06 L282.12,95.30 L282.46,95.53 L282.79,95.76 L283.13,95.98 L283.46,96.19 L283.80,96.40 L284.13,96.60 L284.47,96.79 L284.80,96.98 L285.14,97.16 L285.47,97.33 L285.81,97.49 L286.14,97.65 L286.48,97.80 L286.81,97.93 L287.15,98.06 L287.48,98.18 L287.82,98.29 L288.15,98.39 L288.49,98.48 L288.82,98.56 L289.16,98.62 L289.49,98.68 L289.83,98.72 L290.16,98.75 L290.50,98.77 L290.83,98.77 L291.17,98.77 L291.50,98.75 L291.84,98.71 L292.17,98.67 L292.50,98.61 L292.84,98.54 L293.17,98.46 L293.51,98.37 L293.84,98.27 L294.18,98.16 L294.51,98.04 L294.85,97.91 L295.18,97.77 L295.52,97.62 L295.85,97.47 L296.19,97.30 L296.52,97.13 L296.86,96.95 L297.19,96.76 L297.53,96.56 L297.86,96.36 L298.20,96.15 L298.53,95.94 L298.87,95.72 L299.20,95.49 L299.54,95.26 L299.87,95.02 L300.21,94.78 L300.54,94.53 L300.88,94.27 L301.21,94.02 L301.55,93.76 L301.88,93.49 L302.22,93.22 L302.55,92.95 L302.89,92.67 L303.22,92.39 L303.56,92.11 L303.89,91.83 L304.23,91.54 L304.56,91.25 L304.90,90.96 L305.23,90.66 L305.57,90.37 L305.90,90.07 L306.24,89.77 L306.57,89.47 L306.91,89.16 L307.24,88.86 L307.58,88.56 L307.91,88.25 L308.25,87.94 L308.58,87.64 L308.92,87.33 L309.25,87.02 L309.59,86.72 L309.92,86.41 L310.26,86.10 L310.59,85.79 L310.93,85.49 L311.26,85.18 L311.60,84.87 L311.93,84.57 L312.27,84.26 L312.60,83.96 L312.94,83.66 L313.27,83.35 L313.61,83.05 L313.94,82.75 L314.28,82.45 L314.61,82.16 L314.95,81.86 L315.28,81.57 L315.62,81.27 L315.95,80.98 L316.29,80.69 L316.62,80.41 L316.96,80.12 L317.29,79.84 L317.63,79.55 L317.96,79.27 L318.30,78.99 L318.63,78.72 L318.97,78.44 L319.30,78.17 L319.64,77.90 L319.97,77.64 L320.31,77.37 L320.64,77.11 L320.98,76.85 L321.31,76.59 L321.65,76.33 L321.98,76.08 L322.32,75.83 L322.65,75.58 L322.99,75.34 L323.32,75.09 L323.66,74.85 L323.99,74.62 L324.33,74.38 L324.66,74.15 L325.00,73.92 L325.33,73.69 L325.67,73.47 L326.00,73.24 L326.34,73.03 L326.67,72.81 L327.01,72.60 L327.34,72.39 L327.68,72.18 L328.01,71.97 L328.35,71.77 L328.68,71.57 L329.02,71.37 L329.35,71.18 L329.69,70.99 L330.02,70.80 L330.36,70.61 L330.69,70.43 L331.03,70.25 L331.36,70.07 L331.70,69.90 L332.03,69.72 L332.37,69.55 L332.70,69.39 L333.04,69.22 L333.37,69.06 L333.71,68.90 L334.04,68.75 L334.38,68.59 L334.71,68.44 L335.05,68.29 L335.38,68.15 L335.72,68.00 L336.05,67.86 L336.39,67.73 L336.72,67.59 L337.06,67.46 L337.39,67.33 L337.73,67.20 L338.06,67.07 L338.40,66.95 L338.73,66.83 L339.07,66.71 L339.40,66.59 L339.74,66.48 L340.07,66.36 L340.41,66.25 L340.74,66.14 L341.08,66.03 L341.41,65.92 L341.75,65.81 L342.08,65.71 L342.42,65.60 L342.75,65.50 L343.09,65.40 L343.42,65.30 L343.76,65.20 L344.09,65.11 L344.43,65.02 L344.76,64.92 L345.10,64.83 L345.43,64.74 L345.77,64.66 L346.10,64.57 L346.44,64.49 L346.77,64.41 L347.11,64.33 L347.44,64.26 L347.78,64.18 L348.11,64.11 L348.45,64.04 L348.78,63.98 L349.12,63.91 L349.45,63.85 L349.79,63.79 L350.12,63.74 L350.46,63.68 L350.79,63.63 L351.13,63.58 L351.46,63.53 L351.80,63.49 L352.13,63.44 L352.46,63.40 L352.80,63.36 L353.13,63.33 L353.47,63.29 L353.80,63.26 L354.14,63.23 L354.47,63.20 L354.81,63.18 L355.14,63.15 L355.48,63.13 L355.81,63.11 L356.15,63.09 L356.48,63.07 L356.82,63.06 L357.15,63.04 L357.49,63.03" stroke="#FF0000"/>
</g>
<g stroke-width="1.8" stroke-linecap="butt">
<line x1="114" y1="333.6" x2="135.1" y2="333.6" stroke="#EF7020"/>
<line x1="114" y1="350.9" x2="135.1" y2="350.9" stroke="#FFC000"/>
<line x1="114" y1="368.1" x2="135.1" y2="368.1" stroke="#FF0000"/>
<line x1="277.3" y1="333.6" x2="298.2" y2="333.6" stroke="#9E9E9E"/>
<line x1="277.3" y1="351.0" x2="298.2" y2="351.0" stroke="#3666C4"/>
</g>
<g font-size="8.4">
<text x="137.20" y="336.15" textLength="7.30" lengthAdjust="spacingAndGlyphs">At</text>
<text x="147.30" y="336.15" textLength="4.30" lengthAdjust="spacingAndGlyphs">k</text>
<text x="153.80" y="336.15" textLength="4.40" lengthAdjust="spacingAndGlyphs">=</text>
<text x="160.30" y="336.15" textLength="18.85" lengthAdjust="spacingAndGlyphs">1000</text>
<text x="181.00" y="336.15" textLength="6.55" lengthAdjust="spacingAndGlyphs">lb</text>
<text x="187.95" y="336.15" textLength="3.00" lengthAdjust="spacingAndGlyphs">/</text>
<text x="191.70" y="336.15" textLength="6.80" lengthAdjust="spacingAndGlyphs">in</text>
<text x="199.05" y="336.15" textLength="3.10" lengthAdjust="spacingAndGlyphs">/</text>
<text x="202.60" y="336.15" textLength="7.10" lengthAdjust="spacingAndGlyphs">in</text>
<text x="137.20" y="353.75" textLength="7.30" lengthAdjust="spacingAndGlyphs">At</text>
<text x="147.30" y="353.75" textLength="4.30" lengthAdjust="spacingAndGlyphs">k</text>
<text x="153.80" y="353.75" textLength="4.40" lengthAdjust="spacingAndGlyphs">=</text>
<text x="160.30" y="353.75" textLength="25.45" lengthAdjust="spacingAndGlyphs">10,000</text>
<text x="188.10" y="353.75" textLength="6.55" lengthAdjust="spacingAndGlyphs">lb</text>
<text x="195.05" y="353.75" textLength="3.00" lengthAdjust="spacingAndGlyphs">/</text>
<text x="198.80" y="353.75" textLength="6.80" lengthAdjust="spacingAndGlyphs">in</text>
<text x="206.15" y="353.75" textLength="3.10" lengthAdjust="spacingAndGlyphs">/</text>
<text x="209.70" y="353.75" textLength="7.10" lengthAdjust="spacingAndGlyphs">in</text>
<text x="137.00" y="370.95" textLength="23.60" lengthAdjust="spacingAndGlyphs">Actual</text>
<text x="162.10" y="370.95" textLength="12.75" lengthAdjust="spacingAndGlyphs">Lab</text>
<text x="177.20" y="370.95" textLength="16.00" lengthAdjust="spacingAndGlyphs">Test</text>
<text x="195.90" y="370.95" textLength="7.30" lengthAdjust="spacingAndGlyphs">At</text>
<text x="206.00" y="370.95" textLength="4.30" lengthAdjust="spacingAndGlyphs">k</text>
<text x="212.50" y="370.95" textLength="4.40" lengthAdjust="spacingAndGlyphs">=</text>
<text x="219.45" y="370.95" textLength="25.30" lengthAdjust="spacingAndGlyphs">20,000</text>
<text x="246.70" y="370.95" textLength="6.55" lengthAdjust="spacingAndGlyphs">lb</text>
<text x="253.65" y="370.95" textLength="3.00" lengthAdjust="spacingAndGlyphs">/</text>
<text x="257.40" y="370.95" textLength="6.80" lengthAdjust="spacingAndGlyphs">in</text>
<text x="264.75" y="370.95" textLength="3.10" lengthAdjust="spacingAndGlyphs">/</text>
<text x="268.30" y="370.95" textLength="7.10" lengthAdjust="spacingAndGlyphs">in</text>
<text x="300.20" y="336.15" textLength="7.30" lengthAdjust="spacingAndGlyphs">At</text>
<text x="310.30" y="336.15" textLength="4.30" lengthAdjust="spacingAndGlyphs">k</text>
<text x="316.80" y="336.15" textLength="4.40" lengthAdjust="spacingAndGlyphs">=</text>
<text x="323.55" y="336.15" textLength="18.60" lengthAdjust="spacingAndGlyphs">5000</text>
<text x="344.00" y="336.15" textLength="6.55" lengthAdjust="spacingAndGlyphs">lb</text>
<text x="350.95" y="336.15" textLength="3.00" lengthAdjust="spacingAndGlyphs">/</text>
<text x="354.70" y="336.15" textLength="6.80" lengthAdjust="spacingAndGlyphs">in</text>
<text x="362.05" y="336.15" textLength="3.10" lengthAdjust="spacingAndGlyphs">/</text>
<text x="365.60" y="336.15" textLength="7.10" lengthAdjust="spacingAndGlyphs">in</text>
<text x="300.20" y="353.75" textLength="7.30" lengthAdjust="spacingAndGlyphs">At</text>
<text x="310.30" y="353.75" textLength="4.30" lengthAdjust="spacingAndGlyphs">k</text>
<text x="316.80" y="353.75" textLength="4.40" lengthAdjust="spacingAndGlyphs">=</text>
<text x="323.30" y="353.75" textLength="25.45" lengthAdjust="spacingAndGlyphs">13,000</text>
<text x="351.10" y="353.75" textLength="6.55" lengthAdjust="spacingAndGlyphs">lb</text>
<text x="358.05" y="353.75" textLength="3.00" lengthAdjust="spacingAndGlyphs">/</text>
<text x="361.80" y="353.75" textLength="6.80" lengthAdjust="spacingAndGlyphs">in</text>
<text x="369.15" y="353.75" textLength="3.10" lengthAdjust="spacingAndGlyphs">/</text>
<text x="372.70" y="353.75" textLength="7.10" lengthAdjust="spacingAndGlyphs">in</text>
</g>
</svg>
</body></html>
